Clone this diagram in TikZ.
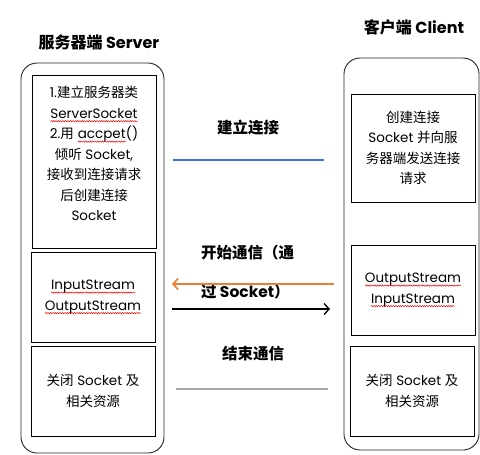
\documentclass[tikz,border=0pt]{standalone}
\usepackage{fontspec}
\setmainfont{Poppins}
\newfontfamily\cjkfont{Noto Sans CJK SC}
\usetikzlibrary{arrows.meta,decorations.pathmorphing}
\newcommand\zhs[1]{{\cjkfont #1}}
% spell-check squiggle under a word
\newcommand\wavy[1]{\tikz[baseline=(w.base)]{\node[inner sep=0pt,outer sep=0pt](w){#1};
\draw[red,line width=0.5pt,decorate,decoration={snake,amplitude=0.6pt,segment length=2.4pt}]
([yshift=-3pt]w.base west)--([yshift=-3pt]w.base east);}}
\definecolor{linkblue}{HTML}{4472C4}
\definecolor{talkorange}{HTML}{ED7D31}
\definecolor{endgray}{HTML}{A5A5A5}
\tikzset{
  side/.style={draw=black!85,line width=0.9pt,rounded corners=16pt},
  stepbox/.style={draw=black,line width=0.8pt,minimum width=124pt,minimum height=90pt},
  boxtext/.style={align=center,inner sep=0pt,font=\fontsize{13.5}{20.5}\selectfont},
  head/.style={font=\fontsize{16}{19}\selectfont\bfseries},
  msg/.style={font=\fontsize{15.5}{19}\selectfont\bfseries}
}
\begin{document}
\begin{tikzpicture}[x=1pt,y=-1pt]
\useasboundingbox (0,0) rectangle (480,455);
% server side
\node[head] (srvtitle) at (99,42) {\zhs{服务器端} Server};
\node[side,minimum width=143pt,minimum height=390pt] (srv) at (92.5,258) {};
\node[stepbox,minimum height=173pt] (srv1) at (94,161.5) {};
\node[stepbox] (srv2) at (93,297) {};
\node[stepbox] (srv3) at (93,391) {};
\node[boxtext] (srv1txt) at ([yshift=8pt]srv1.center) {1.\zhs{建立服务器类}\\\wavy{ServerSocket}\\2.\zhs{用} \wavy{accpet}()\\\zhs{倾听} Socket,\\\zhs{接收到连接请求}\\\zhs{后创建连接}\\Socket};
\node[boxtext] (srv2txt) at (srv2.center) {\wavy{InputStream}\\\wavy{OutputStream}};
\node[boxtext] (srv3txt) at (srv3.center) {\zhs{关闭} Socket \zhs{及}\\\zhs{相关资源}};
% client side
\node[head] (clititle) at (414,27) {\zhs{客户端} Client};
\node[side,minimum width=135pt,minimum height=392pt] (cli) at (411.5,254) {};
\node[stepbox,minimum height=108pt] (cli1) at (413,148) {};
\node[stepbox] (cli2) at (413,290) {};
\node[stepbox] (cli3) at (412,391) {};
\node[boxtext] (cli1txt) at (cli1.center) {\zhs{创建连接}\\Socket \zhs{并向服}\\\zhs{务器端发送连接}\\\zhs{请求}};
\node[boxtext] (cli2txt) at (cli2.center) {\wavy{OutputStream}\\\wavy{InputStream}};
\node[boxtext] (cli3txt) at (cli3.center) {\zhs{关闭} Socket \zhs{及}\\\zhs{相关资源}};
% messages
\node[msg] (linklbl) at (248,128) {\zhs{建立连接}};
\coordinate (link-a) at (173,160);
\coordinate (link-b) at (324,160);
\draw[linkblue,line width=1.3pt] (link-a)--(link-b);
\node[msg,align=left,anchor=north west,inner sep=0pt,font=\fontsize{15.5}{39}\selectfont\bfseries] (talklbl) at (201,245) {\zhs{开始通信（通}\\\zhs{过} Socket\zhs{）}};
\coordinate (talk-r) at (334,284);
\coordinate (talk-l) at (172,284);
\draw[talkorange,line width=1.6pt,-{Straight Barb[length=5pt,width=11pt]}] (talk-r)--(talk-l);
\coordinate (back-l) at (172,309);
\coordinate (back-r) at (330,309);
\draw[black,line width=1.3pt,-{Straight Barb[length=5pt,width=11pt]}] (back-l)--(back-r);
\node[msg] (endlbl) at (253,354) {\zhs{结束通信}};
\coordinate (end-a) at (176,389);
\coordinate (end-b) at (328,389);
\draw[endgray,line width=1.3pt] (end-a)--(end-b);
\end{tikzpicture}
\end{document}
